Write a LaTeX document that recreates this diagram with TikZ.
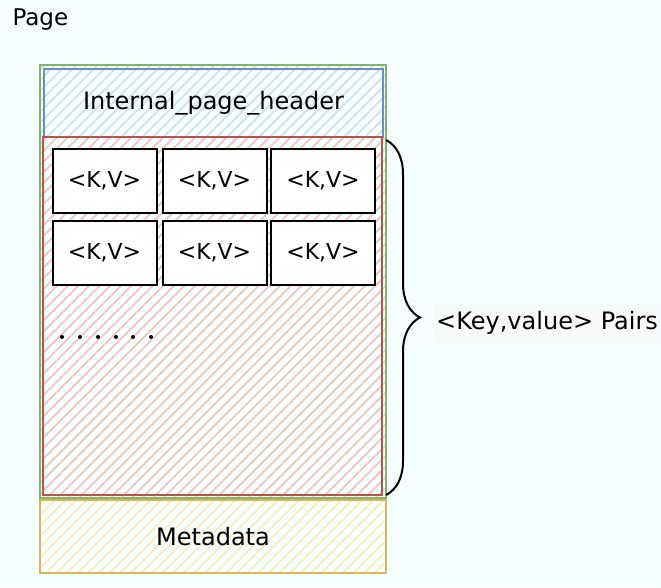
\documentclass[tikz,border=0pt]{standalone}
\usepackage{fontspec}
\setmainfont{DejaVu Sans}
\usepackage{tikz}
\usetikzlibrary{positioning,patterns.meta,decorations.pathreplacing}
\definecolor{bgcolor}{HTML}{F5FFFF}
\definecolor{labelbg}{HTML}{F8F9FB}
\definecolor{pagestroke}{HTML}{82B366}
\definecolor{pagefill}{HTML}{CFE6CC}
\definecolor{headstroke}{HTML}{6C8EBF}
\definecolor{headfill}{HTML}{CFE2F8}
\definecolor{kvstroke}{HTML}{B85450}
\definecolor{kvfill}{HTML}{F5C4C1}
\definecolor{metastroke}{HTML}{D6B656}
\definecolor{metafill}{HTML}{FCEBB8}

\begin{document}
\begin{tikzpicture}[
    x=1pt, y=-1pt,
    hachure/.style={pattern={Lines[angle=45,distance=7.5pt,line width=1.6pt]}, pattern color=#1},
    area/.style={rectangle, line width=2pt, inner sep=0pt},
    kv/.style={rectangle, draw, fill=white, line width=2pt, minimum width=104pt, minimum height=64pt, inner sep=0pt, font=\fontsize{22}{26}\selectfont},
    txt/.style={font=\fontsize{24}{28}\selectfont},
]
    % background
    \fill[bgcolor] (0,0) rectangle (661,587);
    \useasboundingbox (0,0) rectangle (661,587);

    % Title
    \node[font=\fontsize{23}{27}\selectfont, anchor=west] (title) at (9,20) {Page};

    % === PAGE ===
    \node[area, draw=pagestroke, hachure=pagefill, minimum width=346pt, minimum height=433pt] (page) at (213,281.5) {};
    \node[area, draw=headstroke, hachure=headfill, minimum width=339pt, minimum height=68pt, txt] (header) at (213.5,103) {Internal\_page\_header};
    \node[area, draw=kvstroke, hachure=kvfill, minimum width=339pt, minimum height=358pt] (kvarea) at (212.5,316) {};
    \node[area, draw=metastroke, hachure=metafill, minimum width=346pt, minimum height=73pt, txt] (meta) at (213,536.5) {Metadata};

    % <K,V> cells
    \node[kv] (kv11) at (104.5,180.5) {<K,V>};
    \node[kv] (kv12) at (214.5,180.5) {<K,V>};
    \node[kv] (kv13) at (323,180.5) {<K,V>};
    \node[kv] (kv21) at (104.5,252.5) {<K,V>};
    \node[kv] (kv22) at (214.5,252.5) {<K,V>};
    \node[kv] (kv23) at (323,252.5) {<K,V>};

    % dots
    \foreach \x in {62,80,98,116,133,151} {
        \fill (\x,337) circle (2pt);
    }

    % === BRACE ===
    \draw[line width=2pt, decorate, decoration={brace, amplitude=34pt}]
        ([xshift=3pt, yshift=-4pt]kvarea.north east) -- ([xshift=3pt, yshift=1pt]kvarea.south east);
    \node[txt, fill=labelbg, anchor=west, inner sep=2pt, minimum height=40pt] (pairs) at (434,323) {<Key,value> Pairs};

\end{tikzpicture}
\end{document}
